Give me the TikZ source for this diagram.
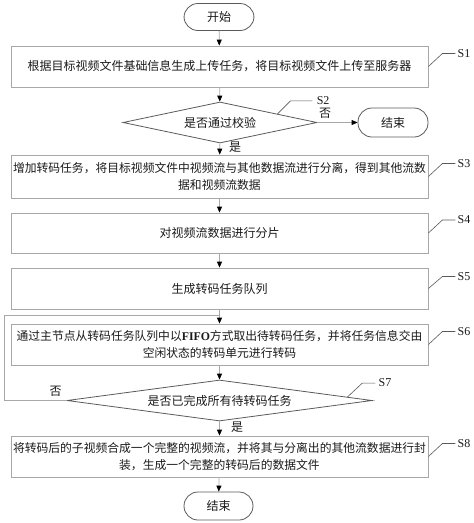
\documentclass[tikz,border=0pt]{standalone}
\usepackage{fontspec}
\setmainfont{Liberation Serif}
\newfontfamily\cjk{Noto Sans CJK SC}
\usetikzlibrary{arrows.meta,shapes.geometric,calc}
\definecolor{boxline}{HTML}{A8A8A8}
\definecolor{darkline}{HTML}{5A5A5A}
\definecolor{txt}{HTML}{1A1A1A}
\begin{document}
\begin{tikzpicture}[x=1pt,y=-1pt,
  stepbox/.style={draw=boxline, line width=0.8pt, minimum width=417pt, inner sep=0pt, align=center, text=txt, font=\cjk\fontsize{12}{17}\selectfont},
  term/.style={draw=darkline, line width=0.8pt, rounded corners=14pt, minimum width=70pt, minimum height=28pt, inner sep=0pt, text=txt, font=\cjk\fontsize{12}{14}\selectfont},
  dec/.style={diamond, draw=darkline, line width=0.8pt, inner sep=0pt, text=txt, font=\cjk\fontsize{12}{14}\selectfont},
  flow/.style={draw=boxline, line width=0.8pt, -{Triangle[width=5pt,length=6pt,color=black]}},
  plain/.style={draw=boxline, line width=0.8pt},
  lead/.style={draw=darkline, line width=0.6pt},
  slab/.style={anchor=west, inner sep=0pt, text=txt, font=\fontsize{12}{14}\selectfont},
  yn/.style={inner sep=0pt, text=txt, font=\cjk\fontsize{12}{14}\selectfont}]
\useasboundingbox (0,0) rectangle (474,523);

\node[term, minimum height=27pt] (start) at (219,17) {开始};
\node[stepbox, minimum height=41pt] (s1) at (219.5,66.5) {根据目标视频文件基础信息生成上传任务，将目标视频文件上传至服务器};
\node[dec, aspect=4.73, minimum width=194pt, minimum height=41pt] (s2) at (220,122.5) {是否通过校验};
\node[term, minimum height=29pt] (end1) at (393,122.5) {结束};
\node[stepbox, minimum height=43pt, font=\cjk\fontsize{11.8}{17}\selectfont] (s3) at (219.5,176.5) {增加转码任务，将目标视频文件中视频流与其他数据流进行分离，得到其他流数\\据和视频流数据};
\node[stepbox, minimum height=40pt] (s4) at (219.5,233) {对视频流数据进行分片};
\node[stepbox, minimum height=41pt] (s5) at (219.5,288.5) {生成转码任务队列};
\node[stepbox, minimum height=41pt, font=\cjk\fontsize{11.8}{17}\selectfont] (s6) at (219.5,344.5) {通过主节点从转码任务队列中以{\normalfont\bfseries FIFO}方式取出待转码任务，并将任务信息交由\\空闲状态的转码单元进行转码};
\node[dec, aspect=7.44, minimum width=305pt, minimum height=41pt] (s7) at (219.5,400.5) {是否已完成所有待转码任务};
\node[stepbox, minimum height=41pt, font=\cjk\fontsize{11.8}{17}\selectfont] (s8) at (219.5,456.5) {将转码后的子视频合成一个完整的视频流，并将其与分离出的其他流数据进行封\\装，生成一个完整的转码后的数据文件};
\node[term, minimum width=69pt] (end2) at (218.5,506) {结束};

\draw[flow] (start) -- (s1);
\draw[flow] (s1) -- (s2);
\draw[flow] (s2.east) -- (end1.west);
\draw[flow] (s2) -- (s3);
\draw[flow] (s3) -- (s4);
\draw[flow] (s4) -- (s5);
\draw[flow] (s5) -- (s6);
\draw[flow] (s6) -- (s7);
\draw[flow] (s7) -- (s8);
\draw[flow] (s8) -- (end2);

\coordinate (j) at (219.5,315);
\coordinate (lc) at (4,0);
\draw[plain] (s7.west) -- (s7.west -| lc) |- (j);

\node[yn] (no1) at (325,113) {否};
\node[yn] (yes1) at (235,147) {是};
\node[yn] (no2) at (55.5,391) {否};
\node[yn] (yes2) at (237,427) {是};

\draw[lead] (s1.east) -- ++(14,-13) -- ++(13,0) node[slab, xshift=2pt] (l1) {S1};
\draw[lead] ($(s2.north)!0.59!(s2.east)$) -- ++(13,-13) -- ++(22,0) node[slab, xshift=4pt] (l2) {S2};
\draw[lead] (s3.east) -- ++(14,-13) -- ++(13,0) node[slab, xshift=2pt] (l3) {S3};
\draw[lead] (s4.east) -- ++(14,-13) -- ++(13,0) node[slab, xshift=2pt] (l4) {S4};
\draw[lead] (s5.east) -- ++(14,-12) -- ++(13,0) node[slab, xshift=2pt] (l5) {S5};
\draw[lead] (s6.east) -- ++(14,-13) -- ++(13,0) node[slab, xshift=2pt] (l6) {S6};
\draw[lead] ($(s7.north)!0.836!(s7.east)$) -- ++(15,-14) -- ++(13,0) node[slab, xshift=3pt] (l7) {S7};
\draw[lead] (s8.east) -- ++(14,-13) -- ++(13,0) node[slab, xshift=2pt] (l8) {S8};
\end{tikzpicture}
\end{document}
